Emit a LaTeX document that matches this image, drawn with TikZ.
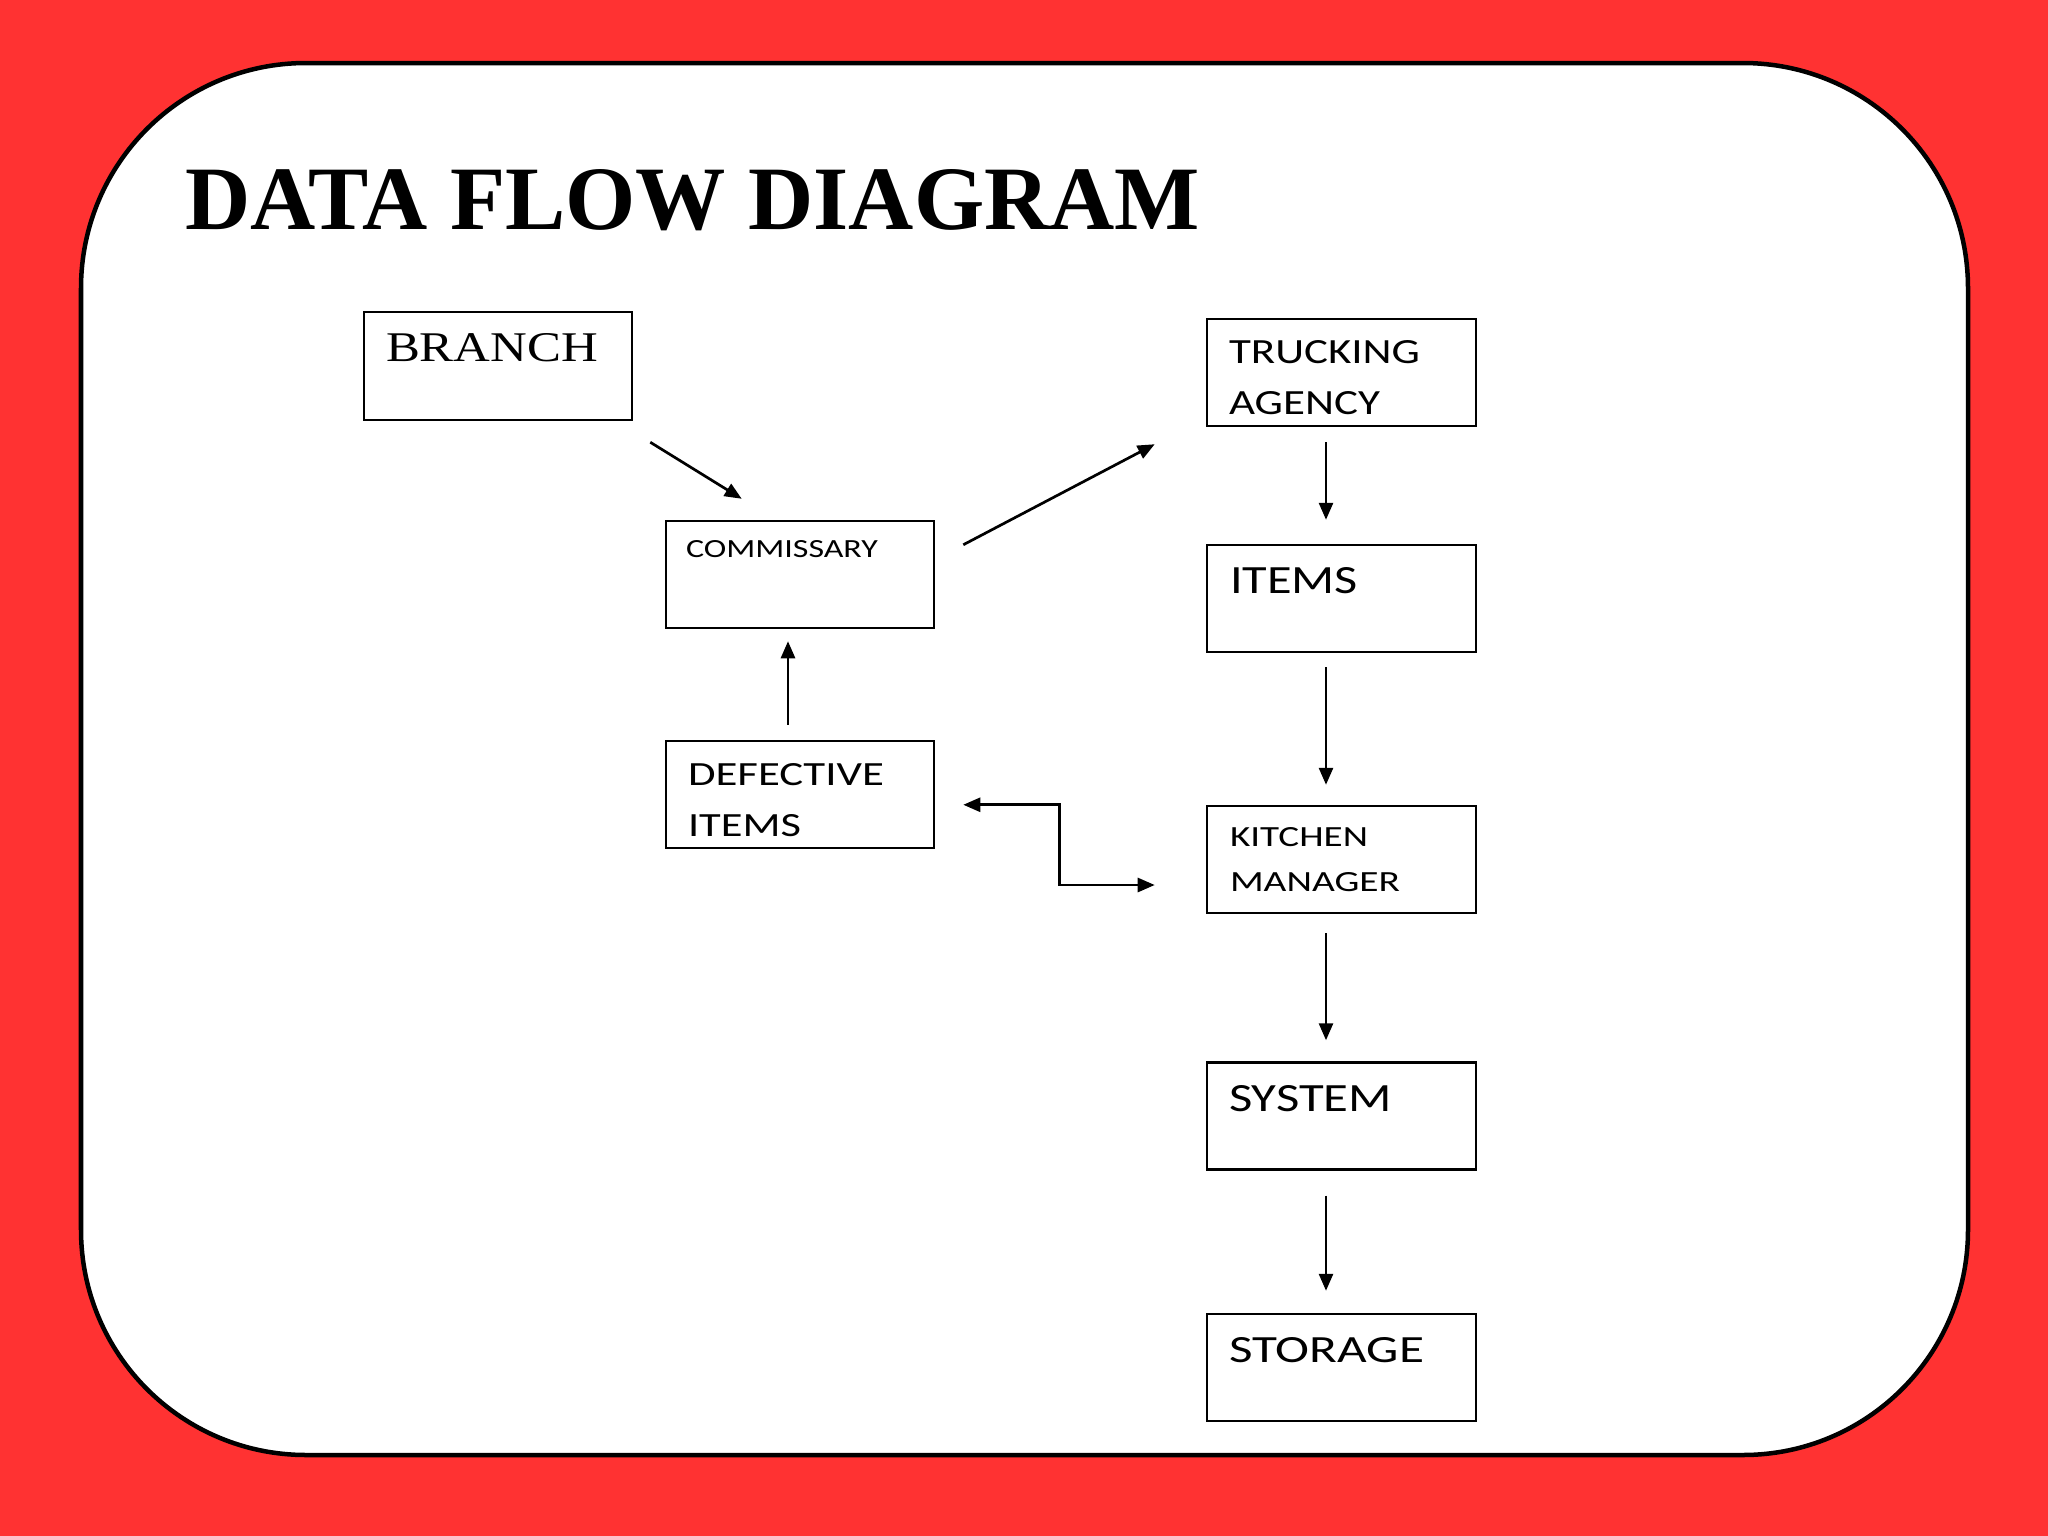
\documentclass[tikz,border=0pt]{standalone}
\usepackage{fontspec}
\setmainfont{Liberation Serif}
\newfontfamily\calib{Carlito}
\usetikzlibrary{arrows.meta,calc}
\definecolor{bgred}{RGB}{255,50,50}
\newlength\pxu
\setlength\pxu{0.01cm}
\newcommand\fitt[3]{\resizebox{#1\pxu}{#2\pxu}{#3}}
\tikzset{
  boxnode/.style={draw=black, line width=0.024cm, minimum width=2.69cm, minimum height=1.07cm, inner sep=0pt, fill=white},
  txt/.style={anchor=base west, inner sep=0pt, outer sep=0pt},
  arr/.style={line width=0.027cm, -{Triangle[length=0.17cm, width=0.14cm]}},
  darr/.style={line width=0.027cm, {Triangle[length=0.17cm, width=0.14cm]}-{Triangle[length=0.17cm, width=0.14cm]}}
}
\begin{document}
\begin{tikzpicture}[x=0.01cm, y=-0.01cm]
\useasboundingbox (0,0) rectangle (2048,1536);
\fill[bgred] (0,0) rectangle (2048,1536);
\draw[line width=0.045cm, fill=white, rounded corners=2.25cm] (81,63) rectangle (1968,1455);

% title
\node[txt] (title) at (185,229) {\fitt{1015}{60}{\bfseries DATA FLOW DIAGRAM}};

% boxes
\node[boxnode, minimum width=2.68cm, minimum height=1.08cm] (branch) at (498,366) {};
\node[boxnode, minimum width=2.68cm] (commissary) at (800,574.5) {};
\node[boxnode, minimum width=2.68cm] (defective) at (800,794.5) {};
\node[boxnode] (trucking) at (1341.5,372.5) {};
\node[boxnode] (items) at (1341.5,598.5) {};
\node[boxnode] (kitchen) at (1341.5,859.5) {};
\node[boxnode] (system) at (1341.5,1116) {};
\node[boxnode] (storage) at (1341.5,1367.5) {};

% texts
\node[txt] (tbranch) at (386,361) {\fitt{212}{28}{BRANCH}};
\node[txt] (tcomm) at (686,557) {\fitt{192}{17}{\calib COMMISSARY}};
\node[txt] (tdef1) at (688,785) {\fitt{196}{22}{\calib DEFECTIVE}};
\node[txt] (tdef2) at (688,836) {\fitt{113}{22}{\calib ITEMS}};
\node[txt] (ttruck1) at (1229,363) {\fitt{191}{23}{\calib TRUCKING}};
\node[txt] (ttruck2) at (1229,414) {\fitt{151}{23}{\calib AGENCY}};
\node[txt] (titems) at (1230,593) {\fitt{128}{26}{\calib ITEMS}};
\node[txt] (tkit1) at (1230,846) {\fitt{138}{19}{\calib KITCHEN}};
\node[txt] (tkit2) at (1230,891) {\fitt{170}{19}{\calib MANAGER}};
\node[txt] (tsys) at (1229,1111) {\fitt{163}{26}{\calib SYSTEM}};
\node[txt] (tstor) at (1229,1362) {\fitt{195}{25}{\calib STORAGE}};

% connectors
\draw[arr] ($(branch.south east)+(17,21)$) -- ($(commissary.north west)+(77,-21)$);
\draw[arr] ($(commissary.north east)+(28,25)$) -- ($(trucking.south west)+(-51,17)$);
\draw[arr] ($(trucking.south)+(-15.5,15)$) -- ($(items.north)+(-15.5,-24)$);
\draw[arr] ($(items.south)+(-15.5,14)$) -- ($(kitchen.north)+(-15.5,-20)$);
\draw[arr] ($(kitchen.south)+(-15.5,19)$) -- ($(system.north)+(-15.5,-21)$);
\draw[arr] ($(system.south)+(-15.5,25)$) -- ($(storage.north)+(-15.5,-22)$);
\draw[arr] ($(defective.north)+(-12,-15)$) -- ($(commissary.south)+(-12,12)$);
\draw[darr] ($(defective.north east)+(28,65)$) -- ++(96,0) |- ($(kitchen.west)+(-51,25.5)$);
\end{tikzpicture}
\end{document}
